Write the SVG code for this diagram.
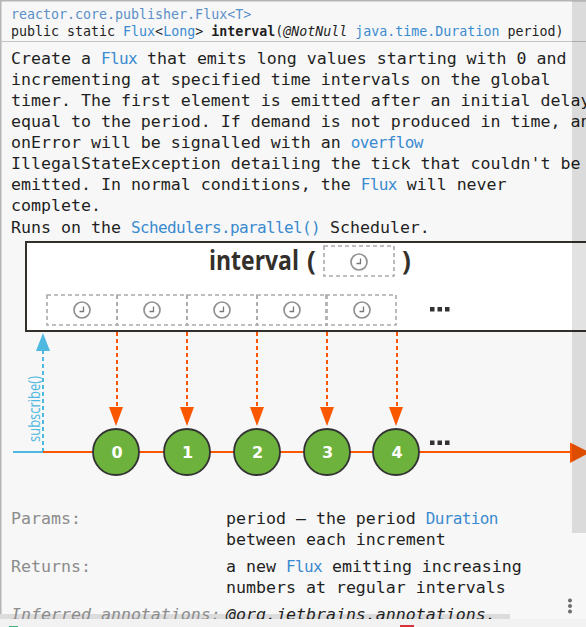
<svg xmlns="http://www.w3.org/2000/svg" width="586" height="627" viewBox="0 0 586 627">
<style>
text{white-space:pre}
.h{font:13.3px "DejaVu Sans Mono","Liberation Mono",monospace;fill:#1f1f1f}
.b{font:16.6px "DejaVu Sans Mono","Liberation Mono",monospace;fill:#1f1f1f}
.l{fill:#3a8bd0}
.b .l{font-size:16px;letter-spacing:-.63px}
.dash{fill:none;stroke:#aaa;stroke-width:1.6;stroke-dasharray:4 3}
.clock circle{fill:none;stroke:#919191;stroke-width:1.7}
.clock path{fill:none;stroke:#777;stroke-width:1.3}
.o{stroke:#f95700;stroke-width:2;stroke-dasharray:4 3;fill:none}
.head{fill:#f95700}
.c{fill:#6db23c;stroke:#333;stroke-width:1.8}
.n{font:bold 16px "DejaVu Sans",sans-serif;fill:#fff;text-anchor:middle}
.t{font:bold 26px "Open Sans","Noto Sans",sans-serif;fill:#332f2b}
.e{fill:#333}
</style>
<defs>
<g id="clk" class="clock"><circle r="8"/><path d="M1.500-3.500V1.500H-2.500"/></g>
<clipPath id="cl"><rect x="0" y="0" width="586" height="619"/></clipPath>
</defs>
<rect width="586" height="627" fill="#f7f7f7"/>
<rect x="0" y="0" width="586" height="1.500" fill="#b5b5b5"/>
<rect x="0" y="0" width="1.500" height="619" fill="#b5b5b5"/>
<rect x="0" y="41" width="586" height="1" fill="#c4c4c4"/>
<g id="header">
<text class="h" x="11" y="19" style="fill:#5b8fc7">reactor.core.publisher.Flux&lt;T&gt;</text>
<text class="h" x="11" y="36">public static <tspan class="l">Flux</tspan>&lt;<tspan class="l">Long</tspan>&gt; <tspan font-weight="bold">interval</tspan>(<tspan font-style="italic">@NotNull</tspan> <tspan class="l">java.time.Duration</tspan> period)</text>
</g>
<g id="description">
<text class="b" x="11" y="64">Create a <tspan class="l">Flux</tspan> that emits long values starting with 0 and</text>
<text class="b" x="11" y="85">incrementing at specified time intervals on the global</text>
<text class="b" x="11" y="106">timer. The first element is emitted after an initial delay</text>
<text class="b" x="11" y="127">equal to the period. If demand is not produced in time, an</text>
<text class="b" x="11" y="148">onError will be signalled with an <tspan class="l">overflow</tspan></text>
<text class="b" x="11" y="169">IllegalStateException detailing the tick that couldn't be</text>
<text class="b" x="11" y="190">emitted. In normal conditions, the <tspan class="l">Flux</tspan> will never</text>
<text class="b" x="11" y="211">complete.</text>
<text class="b" x="11" y="233">Runs on the <tspan class="l">Schedulers.parallel()</tspan> Scheduler.</text>
</g>
<g id="operator">
<rect x="26" y="242" width="570" height="89" fill="#fff" stroke="#332f2b" stroke-width="2"/>
<text class="t" x="209" y="270" textLength="90" lengthAdjust="spacingAndGlyphs">interval</text>
<text class="t" x="307" y="270">(</text>
<text class="t" x="402" y="270">)</text>
<rect class="dash" x="324" y="246" width="70" height="30"/>
<use href="#clk" x="359" y="262"/>
<rect class="dash" x="47" y="295" width="70" height="30"/>
<rect class="dash" x="117" y="295" width="70" height="30"/>
<rect class="dash" x="187" y="295" width="70" height="30"/>
<rect class="dash" x="257" y="295" width="70" height="30"/>
<rect class="dash" x="326" y="295" width="70" height="30"/>
<use href="#clk" x="82" y="310"/>
<use href="#clk" x="152" y="310"/>
<use href="#clk" x="222" y="310"/>
<use href="#clk" x="292" y="310"/>
<use href="#clk" x="362" y="310"/>
<path class="e" d="M430 307h4.500v4.500h-4.500zM437.500 307h4.500v4.500h-4.500zM445 307h4.500v4.500h-4.500z"/>
</g>
<g id="connectors">
<path class="o" d="M117 332V407M187 332V407M257 332V407M327 332V407M397 332V407"/>
<path class="head" d="M109 407h14l-7 19zM180 407h14l-7 19zM250 407h14l-7 19zM320 407h14l-7 19zM389 407h14l-7 19z"/>
<path d="M43 350V452" stroke="#4db8e0" stroke-width="2" stroke-dasharray="4 3" fill="none"/>
<path d="M36 351h14l-7-18z" fill="#4db8e0"/>
<path d="M13 452H43" stroke="#4db8e0" stroke-width="2" fill="none"/>
<path d="M43 452H572" stroke="#f95700" stroke-width="2" fill="none"/>
<path class="head" d="M570 442.500L590 452.500L570 463z"/>
<text x="40" y="442" transform="rotate(-90 40 442)" font-family="Open Sans,Noto Sans,sans-serif" font-size="15.500" fill="#4db8e0" textLength="66" lengthAdjust="spacingAndGlyphs">subscribe()</text>
</g>
<g id="node0"><circle class="c" cx="116" cy="452" r="23"/><text class="n" x="117" y="458">0</text></g>
<g id="node1"><circle class="c" cx="187" cy="452" r="23"/><text class="n" x="187.500" y="458">1</text></g>
<g id="node2"><circle class="c" cx="257" cy="452" r="23"/><text class="n" x="257.500" y="458">2</text></g>
<g id="node3"><circle class="c" cx="327" cy="452" r="23"/><text class="n" x="327.500" y="458">3</text></g>
<g id="node4"><circle class="c" cx="396" cy="452" r="23"/><text class="n" x="397" y="458">4</text></g>
<path class="e" d="M430 440.500h4.500v4.500h-4.500zM437.500 440.500h4.500v4.500h-4.500zM445 440.500h4.500v4.500h-4.500z"/>
<rect x="0" y="614" width="510" height="5" fill="#dcdcdc"/>
<g id="params" clip-path="url(#cl)">
<text class="b" style="fill:#8c8c8c" x="11" y="524">Params:</text>
<text class="b" x="226" y="524">period – the period <tspan class="l">Duration</tspan></text>
<text class="b" x="226" y="545">between each increment</text>
<text class="b" style="fill:#8c8c8c" x="11" y="572">Returns:</text>
<text class="b" x="226" y="572">a new <tspan class="l">Flux</tspan> emitting increasing</text>
<text class="b" x="226" y="593">numbers at regular intervals</text>
<text class="b" style="fill:#8c8c8c;font-style:italic" x="11" y="620">Inferred annotations:</text>
<text class="b" style="font-style:italic" x="226" y="620">@org.jetbrains.annotations.</text>
</g>
<rect x="572" y="1" width="14" height="532" fill="#000" opacity=".115"/>
<path d="M570 598.500a2 2 0 1 0 .01 0zM570 604a2 2 0 1 0 .01 0zM570 609.500a2 2 0 1 0 .01 0z" fill="#6e6e6e"/>
<rect x="0" y="619" width="586" height="8" fill="#f2f2f2"/>
<rect x="9" y="626" width="9" height="1" fill="#3fae7a"/>
<rect x="400" y="625" width="14" height="2" fill="#d9343a"/>
</svg>
